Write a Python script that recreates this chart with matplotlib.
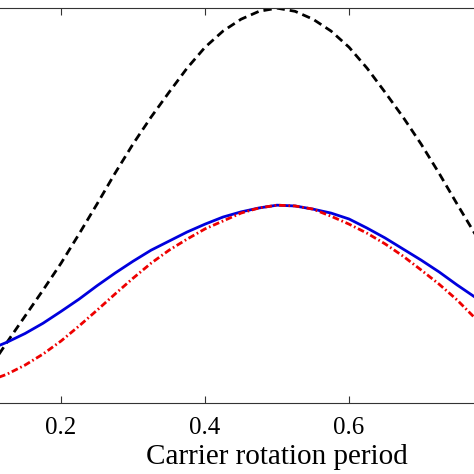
import matplotlib
matplotlib.use('Agg')
import matplotlib.pyplot as plt

# carrier rotation period (fraction)
period = [0.100, 0.125, 0.150, 0.175, 0.200, 0.225, 0.250, 0.275, 0.300,
          0.325, 0.350, 0.375, 0.400, 0.425, 0.450, 0.475, 0.500,
          0.525, 0.550, 0.575, 0.600, 0.625, 0.650, 0.675, 0.700,
          0.725, 0.750, 0.775, 0.800]

# normalised values
black_dash = [0.086, 0.154, 0.220, 0.286, 0.354, 0.428, 0.504, 0.582, 0.656,
              0.724, 0.787, 0.848, 0.901, 0.942, 0.972, 0.992, 1.000,
              0.992, 0.972, 0.942, 0.901, 0.848, 0.787, 0.724, 0.656,
              0.582, 0.504, 0.428, 0.354]
blue_solid = [0.135, 0.154, 0.176, 0.202, 0.232, 0.263, 0.297, 0.329, 0.359,
              0.387, 0.410, 0.433, 0.453, 0.471, 0.484, 0.494, 0.501,
              0.499, 0.491, 0.481, 0.466, 0.443, 0.418, 0.390, 0.362,
              0.332, 0.299, 0.268, 0.238]
red_dashdot = [0.056, 0.073, 0.096, 0.124, 0.157, 0.195, 0.235, 0.276, 0.316,
               0.354, 0.387, 0.415, 0.441, 0.461, 0.481, 0.494, 0.501,
               0.499, 0.491, 0.473, 0.453, 0.430, 0.403, 0.372, 0.337,
               0.301, 0.261, 0.215, 0.170]

x_ticks = [0.2, 0.4, 0.6]

plt.rcParams['font.family'] = ['Liberation Serif', 'DejaVu Serif']

fig = plt.figure(figsize=(4.74, 4.74), dpi=100)
# the picture is a crop of a wider figure, so the axes run past the edges
ax = fig.add_axes([-0.175, 0.1498, 1.519, 0.833])

ax.plot(period, black_dash, color='black', lw=2, dashes=(3, 1.8))
ax.plot(period, blue_solid, color='#0000dd', lw=2)
ax.plot(period, red_dashdot, color='#ee0000', lw=2, dashes=(2.4, 1.0, 0.6, 1.0))

ax.set_xlim(0, 1)
ax.set_ylim(0, 1)
ax.set_xticks(x_ticks)
ax.set_xticklabels(['0.2', '0.4', '0.6'])
ax.set_yticks([])
ax.tick_params(axis='x', direction='in', top=True, length=5, width=0.8,
               labelsize=18, pad=10, color='#333333')
for s in ax.spines.values():
    s.set_color('#333333')
    s.set_linewidth(0.8)

ax.set_xlabel('Carrier rotation period', fontsize=21, labelpad=4)

fig.savefig('out.png', dpi=100)
